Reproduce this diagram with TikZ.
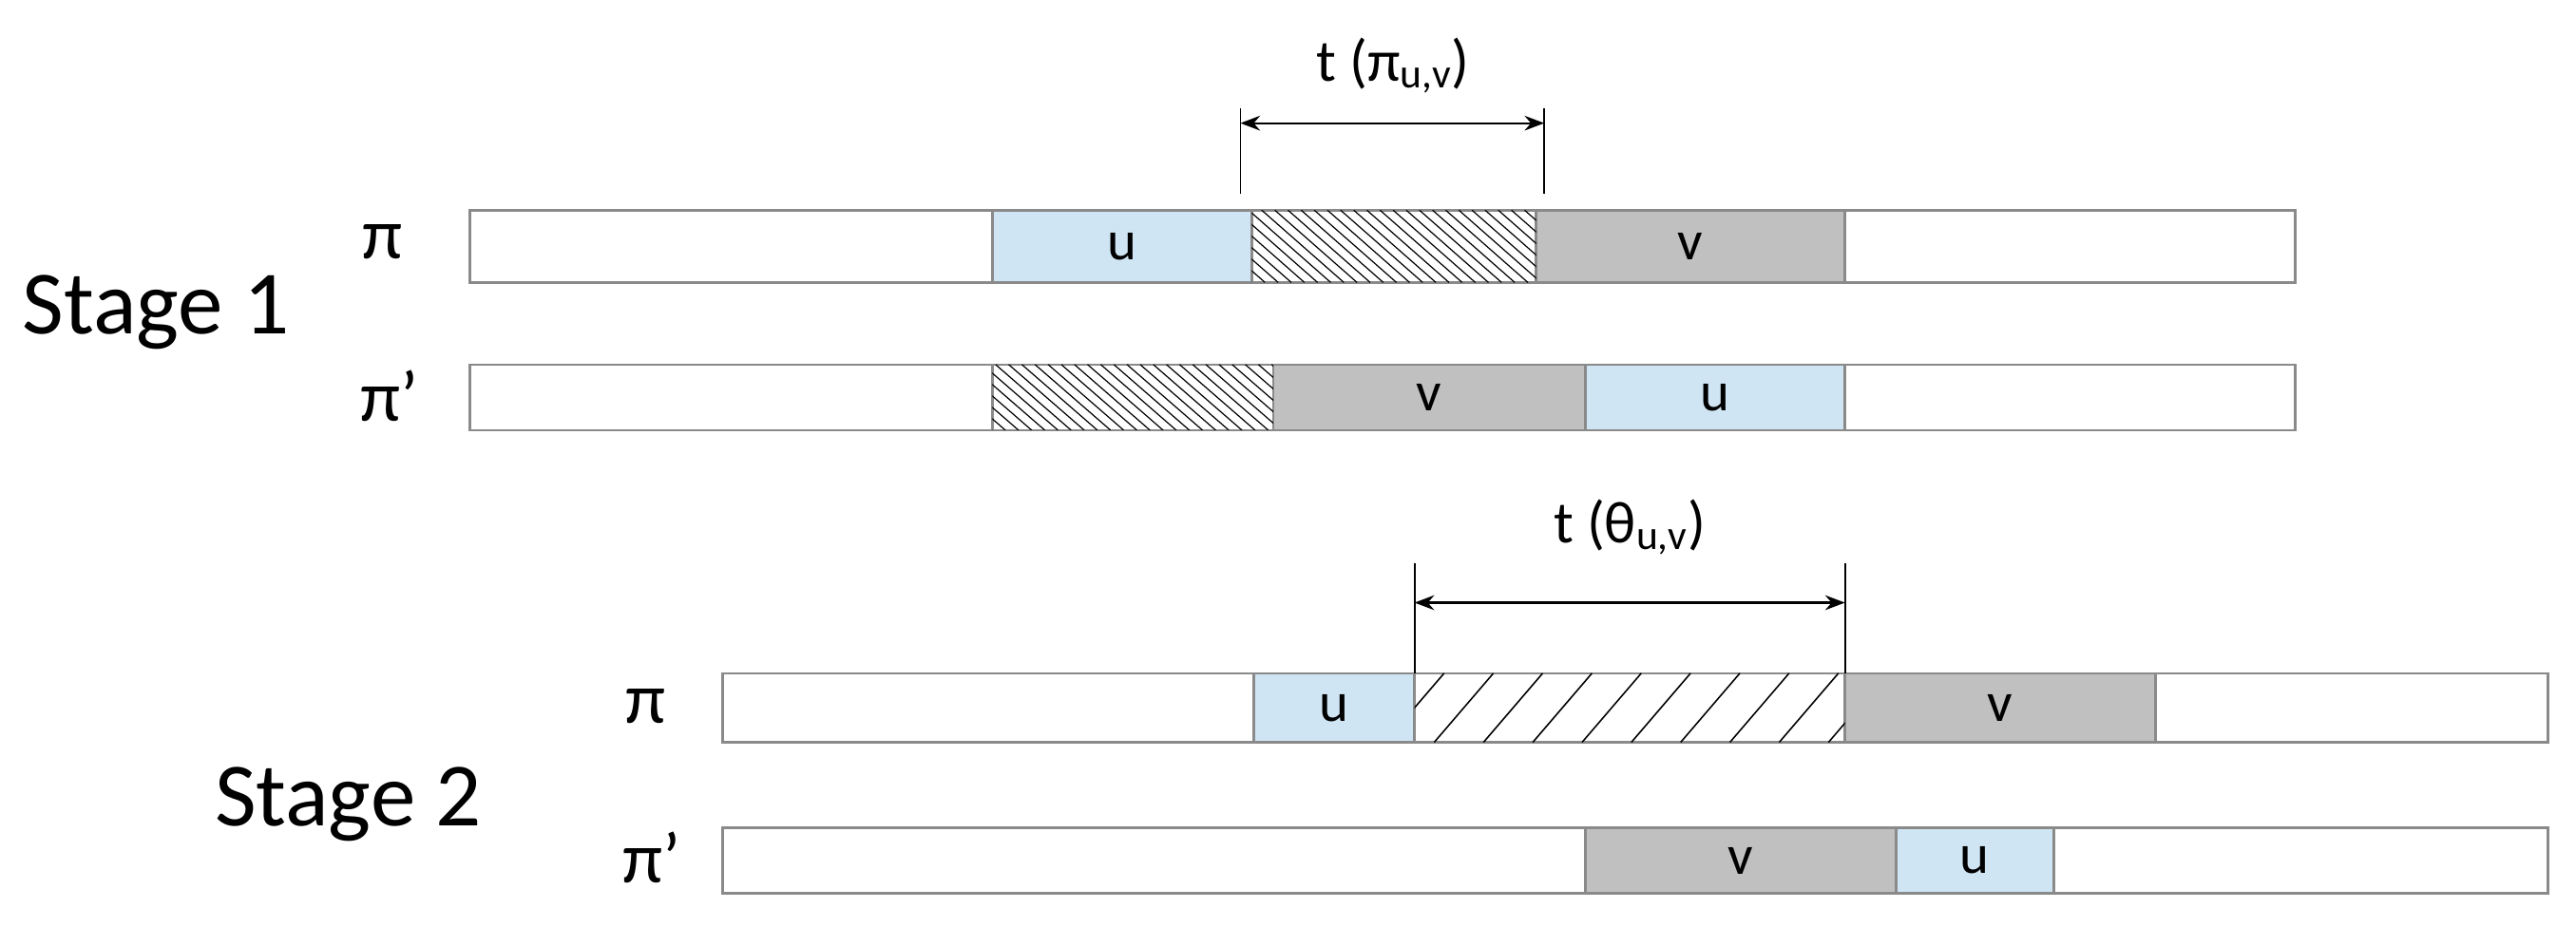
\documentclass[tikz,border=0pt]{standalone}
\usepackage{fontspec}
\setmainfont{Carlito}
\usetikzlibrary{arrows.meta}
\definecolor{lb}{HTML}{CFE5F3}
\definecolor{gv}{HTML}{C0C0C0}
\definecolor{bd}{HTML}{8A8A8A}
\begin{document}
\begin{tikzpicture}[x=1pt,y=-1pt,
  seg/.style={draw=bd,line width=1.5pt,inner sep=0pt,outer sep=0pt,font=\fontsize{34}{34}\selectfont},
  lab/.style={font=\fontsize{36}{36}\selectfont},
  pl/.style={font=\fontsize{44}{44}\selectfont},
  stg/.style={font=\fontsize{55}{55}\selectfont},
  dim/.style={line width=1.3pt,{Stealth[length=12pt,width=9pt]}-{Stealth[length=12pt,width=9pt]}},
  ext/.style={line width=1pt}]
\useasboundingbox (0,0) rectangle (1568,564);
\fill[white] (0,0) rectangle (1568,564);
% Stage 1 pi
\node[seg,minimum width=1111pt,minimum height=44pt,anchor=north west] (b1) at (286,128) {};
\node[seg,fill=lb,minimum width=158pt,minimum height=44pt,anchor=north west] (u1) at (604,128) {u};
\node[seg,minimum width=173pt,minimum height=44pt,anchor=north west] (h1) at (762,128) {};
\node[seg,fill=gv,minimum width=188pt,minimum height=44pt,anchor=north west] (v1) at (935,128) {v};
\begin{scope}\clip (762,128) rectangle (935,172);
\foreach \i in {0,8,...,240}{\draw[line width=0.7pt] (762+\i-50,128)--(762+\i,172);}
\end{scope}
% Stage 1 pi'
\node[seg,minimum width=1111pt,minimum height=40pt,anchor=north west] (b2) at (286,222) {};
\node[seg,minimum width=171pt,minimum height=40pt,anchor=north west] (h2) at (604,222) {};
\node[seg,fill=gv,minimum width=190pt,minimum height=40pt,anchor=north west] (v2) at (775,222) {v};
\node[seg,fill=lb,minimum width=158pt,minimum height=40pt,anchor=north west] (u2) at (965,222) {u};
\begin{scope}\clip (604,222) rectangle (775,262);
\foreach \i in {0,8,...,240}{\draw[line width=0.7pt] (604+\i-46,222)--(604+\i,262);}
\end{scope}
% dimension 1
\coordinate (a1t) at (755,66); \coordinate (a1b) at (755,118);
\coordinate (a2t) at (940,66); \coordinate (a2b) at (940,118);
\draw[ext] (a1t)--(a1b); \draw[ext] (a2t)--(a2b);
\coordinate (d1) at (755,75); \coordinate (d2) at (940,75);
\draw[dim] (d1)--(d2);
\node[lab] (t1) at (848,40) {t (π\textsubscript{u,v})};
% labels stage 1
\node[pl] (p1) at (233,147) {π};
\node[pl] (p1p) at (237,241) {π'};
\node[stg] (s1) at (95,190) {Stage 1};
% Stage 2 pi
\node[seg,minimum width=1111pt,minimum height=42pt,anchor=north west] (b3) at (440,410) {};
\node[seg,fill=lb,minimum width=98pt,minimum height=42pt,anchor=north west] (u3) at (763,410) {u};
\node[seg,minimum width=262pt,minimum height=42pt,anchor=north west] (h3) at (861,410) {};
\node[seg,fill=gv,minimum width=189pt,minimum height=42pt,anchor=north west] (v3) at (1123,410) {v};
\begin{scope}\clip (861,410) rectangle (1123,452);
\foreach \i in {0,30,...,330}{\draw[line width=0.9pt] (861+\i-18,452)--(861+\i+18,410);}
\end{scope}
% Stage 2 pi'
\node[seg,minimum width=1111pt,minimum height=40pt,anchor=north west] (b4) at (440,504) {};
\node[seg,fill=gv,minimum width=189pt,minimum height=40pt,anchor=north west] (v4) at (965,504) {v};
\node[seg,fill=lb,minimum width=96pt,minimum height=40pt,anchor=north west] (u4) at (1154,504) {u};
% dimension 2
\coordinate (c1t) at (861,343); \coordinate (c2t) at (1123,343);
\draw[ext] (c1t)--(h3.north west); \draw[ext] (c2t)--(h3.north east);
\coordinate (e1) at (861,367); \coordinate (e2) at (1123,367);
\draw[dim] (e1)--(e2);
\node[lab] (t2) at (992,321) {t (θ\textsubscript{u,v})};
\node[pl] (p3) at (393,430) {π};
\node[pl] (p3p) at (397,522) {π'};
\node[stg] (s2) at (212,490) {Stage 2};
\end{tikzpicture}
\end{document}
